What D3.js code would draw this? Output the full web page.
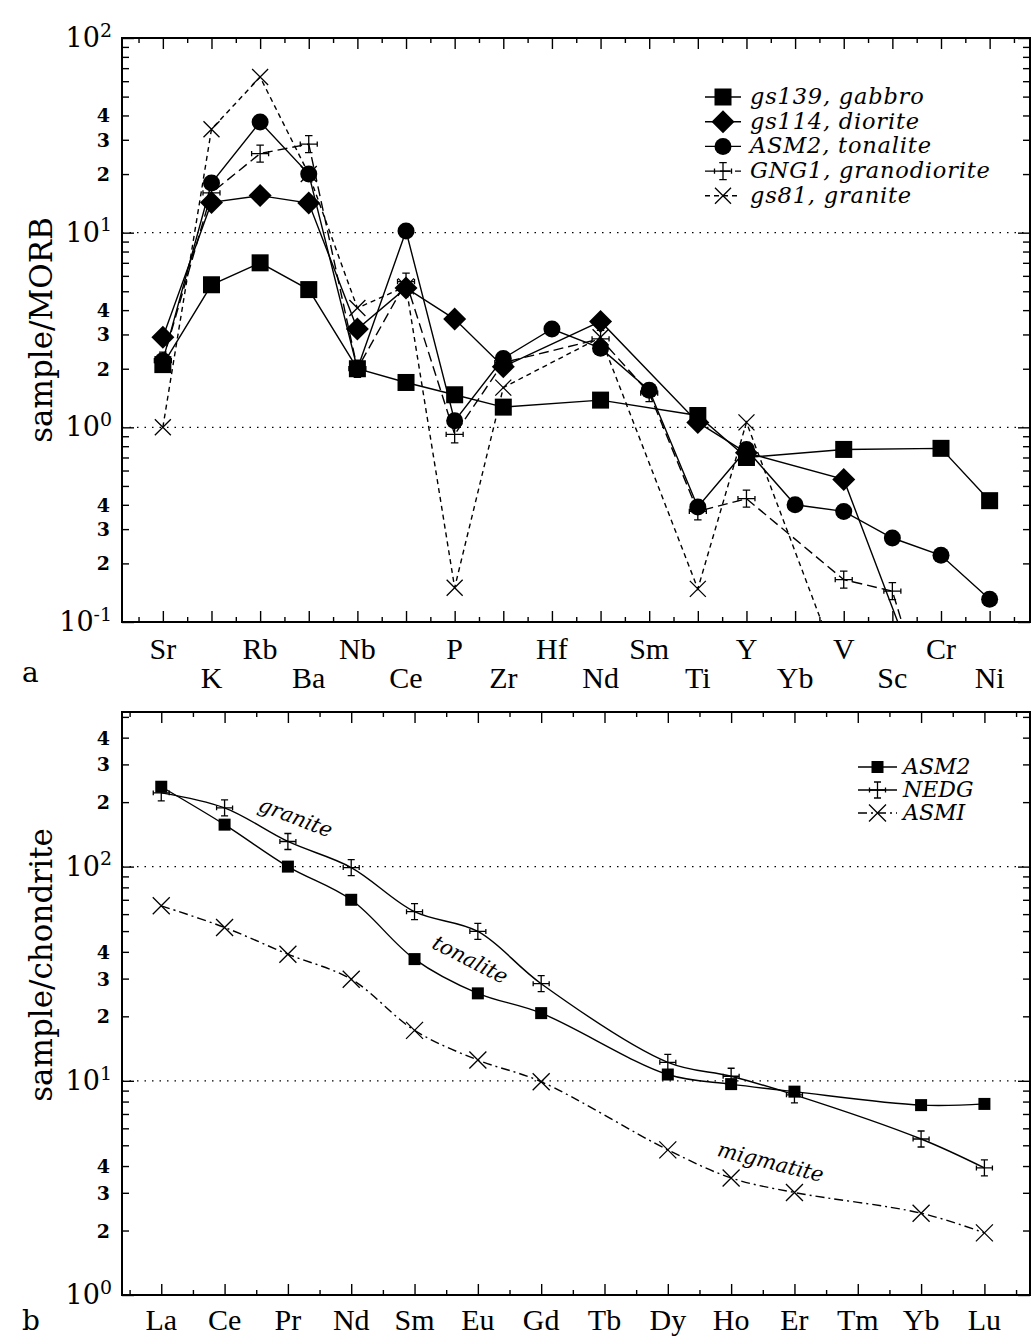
<!DOCTYPE html>
<html>
<head>
<meta charset="utf-8">
<script src="https://cdn.jsdelivr.net/npm/d3@7"></script>
<style>
  body { margin: 0; background: #fff; }
  svg { display: block; }
</style>
</head>
<body>
<div id="chart"></div>
<script>
// panel a: MORB-normalised spider diagram
const elemsA = ["Sr","K","Rb","Ba","Nb","Ce","P","Zr","Hf","Nd","Sm","Ti","Y","Yb","V","Sc","Cr","Ni"]
const gabbro  = [2.1, 5.4, 7.0, 5.1, 2.0, 1.7, 1.47, 1.27, null, 1.38, null, 1.15, 0.70, null, 0.77, null, 0.78, 0.42]
const diorite = [2.9, 14.3, 15.5, 14.2, 3.2, 5.2, 3.6, 2.05, null, 3.5, null, 1.06, 0.74, null, 0.54, null, 0.026, null]
const tonalite = [2.2, 18, 37, 20, 2.0, 10.2, 1.08, 2.26, 3.2, 2.55, 1.55, 0.39, 0.77, 0.40, 0.37, 0.27, 0.22, 0.131]
const granodiorite = [2.2, 16, 25.5, 28.5, 2.0, 5.6, 0.92, 2.15, null, 2.85, 1.5, 0.37, 0.43, null, 0.165, 0.144, 0.022, null]
const granite = [1.0, 34, 63, 20, 4.1, 5.3, 0.15, 1.6, null, 2.9, null, 0.148, 1.06, null, 0.05, null, null, null]
const namesA = ["gs139, gabbro", "gs114, diorite", "ASM2, tonalite", "GNG1, granodiorite", "gs81, granite"]

// panel b: chondrite-normalised REE
const elemsB = ["La","Ce","Pr","Nd","Sm","Eu","Gd","Tb","Dy","Ho","Er","Tm","Yb","Lu"]
const asm2 = [236, 157, 100, 70, 37, 25.6, 20.7, null, 10.7, 9.65, 8.9, null, 7.7, 7.8]
const nedg = [221, 188, 131, 99, 61.6, 49.8, 28.4, null, 12.2, 10.5, 8.6, null, 5.35, 3.92]
const asmi = [65.6, 52, 39, 29.8, 17.2, 12.5, 9.9, null, 4.76, 3.52, 3.01, null, 2.41, 1.95]
const namesB = ["ASM2", "NEDG", "ASMI"]

const W = 1036, H = 1338
const serif = "'DejaVu Serif', serif"
const svg = d3.select("#chart").append("svg").attr("width", W).attr("height", H)

function marker(g, type, x, y, s) {
  const h = s / 2
  if (type == "square") {
    g.append("rect").attr("x", x - h).attr("y", y - h).attr("width", s).attr("height", s).attr("fill", "#000")
  } else if (type == "diamond") {
    g.append("path").attr("d", `M${x},${y - h}L${x + h},${y}L${x},${y + h}L${x - h},${y}Z`).attr("fill", "#000")
  } else if (type == "circle") {
    g.append("circle").attr("cx", x).attr("cy", y).attr("r", h).attr("fill", "#000")
  } else if (type == "err") {
    const c = s * 0.22
    const p = `M${x},${y - h}V${y + h}M${x - c},${y - h}H${x + c}M${x - c},${y + h}H${x + c}` +
      `M${x - h},${y}H${x + h}M${x - h},${y - c * 0.7}V${y + c * 0.7}M${x + h},${y - c * 0.7}V${y + c * 0.7}`
    g.append("path").attr("d", p).attr("stroke", "#000").attr("stroke-width", 1.3).attr("fill", "none")
  } else if (type == "x") {
    g.append("path").attr("d", `M${x - h},${y - h}L${x + h},${y + h}M${x - h},${y + h}L${x + h},${y - h}`)
      .attr("stroke", "#000").attr("stroke-width", 1.3).attr("fill", "none")
  }
}

function decadeLabel(g, x, y, exp, size) {
  const t = g.append("text").attr("x", x).attr("y", y).attr("text-anchor", "end")
    .attr("font-family", serif).attr("font-size", size)
  t.append("tspan").text("10")
  t.append("tspan").attr("dy", -size * 0.38).attr("font-size", size * 0.7).text(exp)
}

function panel(cfg) {
  const { left, right, top, bottom } = cfg
  const x = d3.scaleLinear().domain(cfg.xdom).range([left, right])
  const y = d3.scaleLog().domain(cfg.ydom).range([bottom, top])
  const g = svg.append("g")
  const idx = d3.range(cfg.elems.length)
  const half = d3.range(cfg.elems.length + 1).map(i => i - 0.5)
    .filter(v => x(v) > left + 2 && x(v) < right - 2)

  // decade and minor y ticks
  const [y0, y1] = cfg.ydom
  const decades = [], minors = []
  for (let e = Math.floor(Math.log10(y0)); e <= Math.ceil(Math.log10(y1)); e++) {
    const d = Math.pow(10, e)
    if (d >= y0 && d <= y1) decades.push(d)
    for (let m = 2; m <= 9; m++) if (m * d > y0 && m * d < y1) minors.push(m * d)
  }

  const ax = (a, size) => a.tickSizeInner(size).tickSizeOuter(0).tickFormat("")
  const put = (axis, tx, ty) => {
    const s = g.append("g").attr("transform", `translate(${tx},${ty})`).call(axis)
    s.select(".domain").remove()
    s.selectAll("line").attr("stroke", "#000").attr("stroke-width", 1.4)
  }
  put(ax(d3.axisLeft(y).tickValues(decades), -12), left, 0)
  put(ax(d3.axisLeft(y).tickValues(minors), -7), left, 0)
  put(ax(d3.axisRight(y).tickValues(decades), -12), right, 0)
  put(ax(d3.axisRight(y).tickValues(minors), -7), right, 0)
  put(ax(d3.axisTop(x).tickValues(idx), -11), 0, top)
  put(ax(d3.axisTop(x).tickValues(half), -5), 0, top)
  put(ax(d3.axisBottom(x).tickValues(idx), -11), 0, bottom)
  put(ax(d3.axisBottom(x).tickValues(half), -5), 0, bottom)

  g.append("rect").attr("x", left).attr("y", top).attr("width", right - left).attr("height", bottom - top)
    .attr("fill", "none").attr("stroke", "#000").attr("stroke-width", 2)

  // dotted grid
  cfg.grid.forEach(v => {
    g.append("line").attr("x1", left).attr("x2", right).attr("y1", y(v)).attr("y2", y(v))
      .attr("stroke", "#000").attr("stroke-width", 1.3).attr("stroke-dasharray", "1.5,6")
  })

  // y labels
  decades.forEach(d => decadeLabel(g, cfg.labX, y(d) + 9, String(Math.round(Math.log10(d))), 27))
  minors.filter(v => [2, 3, 4].includes(Math.round(v / Math.pow(10, Math.floor(Math.log10(v) + 1e-9)))))
    .forEach(v => {
      g.append("text").attr("x", cfg.labX - 2).attr("y", y(v) + 7).attr("text-anchor", "end")
        .attr("font-family", serif).attr("font-size", 19).attr("font-weight", "bold").text(
          Math.round(v / Math.pow(10, Math.floor(Math.log10(v) + 1e-9))))
    })
  g.append("text").attr("transform", `translate(52,${cfg.titleY}) rotate(-90)`).attr("text-anchor", "middle")
    .attr("font-family", serif).attr("font-size", 31).text(cfg.title)
  g.append("text").attr("x", 22).attr("y", cfg.letterY).attr("font-family", serif).attr("font-size", 28).text(cfg.letter)

  // x labels
  cfg.elems.forEach((e, i) => {
    g.append("text").attr("x", x(i)).attr("y", cfg.xlabY(i)).attr("text-anchor", "middle")
      .attr("font-family", "'Liberation Serif', serif").attr("font-size", 30).text(e)
  })

  // series
  const clipId = "clip" + cfg.letter
  svg.append("clipPath").attr("id", clipId).append("rect")
    .attr("x", left).attr("y", top).attr("width", right - left).attr("height", bottom - top)
  const data = g.append("g")
  cfg.series.forEach(s => {
    const pts = s.values.map((v, i) => [i, v]).filter(d => d[1] != null)
    const line = d3.line().x(d => x(d[0])).y(d => y(d[1])).curve(cfg.curve)
    data.append("path").attr("d", line(pts)).attr("clip-path", `url(#${clipId})`)
      .attr("fill", "none").attr("stroke", "#000").attr("stroke-width", 1.4)
      .attr("stroke-dasharray", s.dash)
    pts.filter(d => d[1] >= y0 && d[1] <= y1).forEach(d => marker(data, s.type, x(d[0]), y(d[1]), s.size))
  })

  // legend
  const lg = g.append("g")
  cfg.series.forEach((s, i) => {
    const ly = cfg.legend.y + i * cfg.legend.dy
    lg.append("line").attr("x1", cfg.legend.x0).attr("x2", cfg.legend.x1).attr("y1", ly).attr("y2", ly)
      .attr("stroke", "#000").attr("stroke-width", 1.4).attr("stroke-dasharray", s.dash)
    marker(lg, s.type, (cfg.legend.x0 + cfg.legend.x1) / 2, ly, s.size)
    lg.append("text").attr("x", cfg.legend.tx).attr("y", ly + 7).attr("font-family", serif)
      .attr("font-style", "italic").attr("font-size", cfg.legend.size)
      .attr("letter-spacing", cfg.legend.ls).text(s.name)
  })
  return { x, y, g }
}

panel({
  left: 122, right: 1030, top: 38, bottom: 622,
  xdom: [-0.84, 17.83], ydom: [0.1, 100], grid: [1, 10],
  elems: elemsA, labX: 112, title: "sample/MORB", titleY: 330, letter: "a", letterY: 682,
  xlabY: i => i % 2 == 0 ? 659 : 688,
  curve: d3.curveLinear,
  series: [
    { name: namesA[0], values: gabbro, type: "square", size: 17, dash: null },
    { name: namesA[1], values: diorite, type: "diamond", size: 23, dash: null },
    { name: namesA[2], values: tonalite, type: "circle", size: 17, dash: null },
    { name: namesA[3], values: granodiorite, type: "err", size: 17, dash: "10,5" },
    { name: namesA[4], values: granite, type: "x", size: 16, dash: "5,4" }
  ],
  legend: { x0: 705, x1: 741, tx: 750, y: 97, dy: 24.7, size: 22.5, ls: 0.8 }
})

const pb = panel({
  left: 122, right: 1030, top: 712, bottom: 1295,
  xdom: [-0.62, 13.72], ydom: [1, 527], grid: [10, 100],
  elems: elemsB, labX: 112, title: "sample/chondrite", titleY: 965, letter: "b", letterY: 1330,
  xlabY: i => 1330,
  curve: d3.curveCatmullRom,
  series: [
    { name: namesB[0], values: asm2, type: "square", size: 12, dash: null },
    { name: namesB[1], values: nedg, type: "err", size: 16, dash: null },
    { name: namesB[2], values: asmi, type: "x", size: 17, dash: "9,4,2,4" }
  ],
  legend: { x0: 858, x1: 897, tx: 903, y: 767, dy: 23, size: 22, ls: 0 }
})

// curve annotations
const notes = [["granite", 293, 824, 21], ["tonalite", 467, 966, 27], ["migmatite", 769, 1169, 14]]
notes.forEach(([t, nx, ny, a]) => {
  pb.g.append("text").attr("transform", `translate(${nx},${ny}) rotate(${a})`).attr("text-anchor", "middle")
    .attr("font-family", serif).attr("font-style", "italic").attr("font-size", 21).text(t)
})
</script>
</body>
</html>
